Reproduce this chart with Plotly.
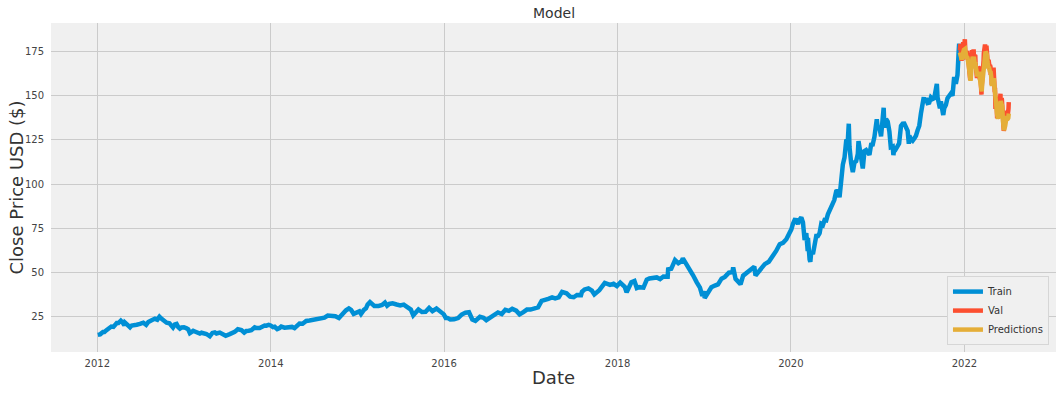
import plotly.graph_objects as go

train_dates = [
"2012-01-03","2012-01-13","2012-01-25","2012-01-31","2012-02-10","2012-02-17","2012-02-29","2012-03-09","2012-03-16","2012-03-23","2012-03-30",
"2012-04-09","2012-04-17","2012-04-24","2012-04-27","2012-05-07","2012-05-18","2012-05-25","2012-06-01","2012-06-15","2012-06-29","2012-07-13",
"2012-07-25","2012-08-03","2012-08-17","2012-08-31","2012-09-10","2012-09-19","2012-09-28","2012-10-10","2012-10-19","2012-10-31","2012-11-09",
"2012-11-15","2012-11-23","2012-11-30","2012-12-07","2012-12-14","2012-12-21","2012-12-31",
"2013-01-11","2013-01-18","2013-01-25","2013-02-08","2013-02-15","2013-02-28","2013-03-08","2013-03-15","2013-03-28","2013-04-05","2013-04-19",
"2013-04-30","2013-05-10","2013-05-17","2013-05-31","2013-06-14","2013-06-25","2013-07-12","2013-07-24","2013-08-02","2013-08-15","2013-08-30",
"2013-09-11","2013-09-20","2013-09-30","2013-10-11","2013-10-25","2013-10-31","2013-11-15","2013-11-29","2013-12-06","2013-12-13","2013-12-23","2013-12-31",
"2014-01-10","2014-01-17","2014-01-28","2014-02-07","2014-02-14","2014-02-28","2014-03-14","2014-03-31","2014-04-11","2014-04-24","2014-05-02",
"2014-05-15","2014-05-30","2014-06-13","2014-06-30","2014-07-15","2014-07-31","2014-08-15","2014-08-29","2014-09-15","2014-09-30","2014-10-15",
"2014-10-31","2014-11-14","2014-11-26","2014-12-05","2014-12-16","2014-12-31",
"2015-01-09","2015-01-16","2015-01-23","2015-01-28","2015-02-06","2015-02-13","2015-02-23","2015-03-06","2015-03-13","2015-03-31","2015-04-15",
"2015-04-27","2015-05-06","2015-05-15","2015-05-29","2015-06-15","2015-06-30","2015-07-15","2015-07-22","2015-07-31","2015-08-14","2015-08-24",
"2015-09-01","2015-09-15","2015-09-30","2015-10-15","2015-10-30","2015-11-13","2015-11-30","2015-12-15","2015-12-31",
"2016-01-08","2016-01-15","2016-01-27","2016-02-05","2016-02-12","2016-02-29","2016-03-15","2016-03-31","2016-04-15","2016-04-29","2016-05-12",
"2016-05-31","2016-06-15","2016-06-27","2016-07-15","2016-07-29","2016-08-15","2016-08-31","2016-09-15","2016-09-30","2016-10-14","2016-10-31",
"2016-11-14","2016-11-30","2016-12-15","2016-12-30",
"2017-01-13","2017-01-31","2017-02-15","2017-02-28","2017-03-15","2017-03-31","2017-04-13","2017-04-28","2017-05-12","2017-05-31","2017-06-09",
"2017-06-15","2017-06-30","2017-07-14","2017-07-31","2017-08-04","2017-08-15","2017-08-31","2017-09-15","2017-09-25","2017-10-16","2017-10-31",
"2017-11-08","2017-11-30","2017-12-15","2017-12-29",
"2018-01-12","2018-01-31","2018-02-08","2018-02-28","2018-03-13","2018-03-23","2018-04-02","2018-04-20","2018-05-04","2018-05-15","2018-05-31",
"2018-06-15","2018-06-29","2018-07-13","2018-07-31","2018-08-02","2018-08-15","2018-08-31","2018-09-14","2018-09-28","2018-10-03","2018-10-24",
"2018-11-02","2018-11-15","2018-11-30","2018-12-14","2018-12-24","2018-12-31",
"2019-01-03","2019-01-15","2019-01-31","2019-02-15","2019-02-28","2019-03-15","2019-03-29","2019-04-15","2019-04-30","2019-05-03","2019-05-13",
"2019-05-31","2019-06-03","2019-06-14","2019-06-28","2019-07-15","2019-07-31","2019-08-05","2019-08-15","2019-08-30","2019-09-13","2019-09-30",
"2019-10-15","2019-10-31","2019-11-15","2019-11-29","2019-12-13","2019-12-31",
"2020-01-03","2020-01-10","2020-01-17","2020-01-24","2020-01-31","2020-02-07","2020-02-14","2020-02-21","2020-02-28","2020-03-06","2020-03-12",
"2020-03-13","2020-03-16","2020-03-20","2020-03-23","2020-03-27","2020-04-03","2020-04-09","2020-04-17","2020-04-24","2020-05-01","2020-05-08",
"2020-05-15","2020-05-22","2020-05-29","2020-06-05","2020-06-12","2020-06-19","2020-06-26","2020-07-02","2020-07-10","2020-07-17","2020-07-24",
"2020-07-31","2020-08-07","2020-08-14","2020-08-21","2020-08-28","2020-08-31","2020-09-01","2020-09-04","2020-09-08","2020-09-11","2020-09-18",
"2020-09-25","2020-10-02","2020-10-09","2020-10-12","2020-10-16","2020-10-23","2020-10-30","2020-11-06","2020-11-13","2020-11-20","2020-11-27",
"2020-12-04","2020-12-11","2020-12-18","2020-12-28","2020-12-31",
"2021-01-08","2021-01-15","2021-01-22","2021-01-26","2021-01-29","2021-02-05","2021-02-12","2021-02-19","2021-02-25","2021-03-05","2021-03-08",
"2021-03-12","2021-03-19","2021-03-26","2021-04-01","2021-04-09","2021-04-16","2021-04-23","2021-04-30","2021-05-07","2021-05-12","2021-05-14",
"2021-05-21","2021-05-28","2021-06-04","2021-06-11","2021-06-18","2021-06-25","2021-07-02","2021-07-09","2021-07-14","2021-07-16","2021-07-23",
"2021-07-30","2021-08-06","2021-08-13","2021-08-20","2021-08-27","2021-09-03","2021-09-07","2021-09-10","2021-09-17","2021-09-20","2021-09-24",
"2021-10-01","2021-10-04","2021-10-08","2021-10-15","2021-10-22","2021-10-29","2021-11-05","2021-11-12","2021-11-19","2021-11-26","2021-12-03",
"2021-12-08","2021-12-10",
]
train_close = [
14.69,15.0,16.3,16.3,17.5,18.2,19.4,19.2,20.9,21.4,21.4,
22.7,21.6,20.1,21.6,20.3,19.0,20.0,20.0,20.4,20.9,21.6,
20.4,22.0,23.0,23.8,23.3,25.0,23.8,22.7,21.6,21.3,19.3,
18.9,20.6,20.9,19.1,18.2,18.9,19.0,
18.4,17.8,15.7,17.0,16.6,15.8,15.4,15.9,15.8,15.2,13.9,
15.8,16.1,15.5,16.0,15.3,14.2,15.1,15.7,16.4,17.9,17.4,
16.0,16.9,17.0,17.3,18.9,18.6,18.6,19.9,20.0,19.9,20.4,20.0,
19.1,19.3,18.0,18.6,19.4,18.8,18.8,19.2,18.5,20.3,21.1,
21.0,22.6,22.8,23.2,23.8,23.9,24.4,25.6,25.4,25.2,24.2,
27.0,28.6,29.7,28.9,26.6,27.6,
28.0,26.5,28.2,28.8,29.7,31.8,33.2,31.6,31.1,31.1,31.6,
33.0,31.2,32.2,32.6,31.9,31.4,31.8,31.3,30.3,29.0,25.8,
26.8,29.1,27.6,27.7,29.9,28.1,29.6,27.6,26.3,
24.3,24.3,23.4,23.8,23.5,24.2,26.2,27.2,27.5,23.4,22.6,
24.9,24.4,23.0,24.7,26.1,27.4,26.5,28.9,28.3,29.4,28.4,
26.3,27.6,29.0,29.0,
29.8,30.3,33.9,34.2,35.1,35.9,35.3,35.9,39.0,38.2,37.2,
36.3,36.0,37.3,37.2,39.1,40.4,41.0,39.7,37.6,40.0,42.3,
44.1,43.0,43.6,42.3,
44.3,41.9,38.8,44.5,45.2,41.2,41.7,41.4,45.9,46.6,46.7,
47.2,46.3,47.7,47.6,51.8,52.1,57.0,55.3,56.4,58.0,53.7,
51.9,48.4,44.6,41.4,36.7,39.4,
35.5,38.3,41.6,42.6,43.3,46.5,47.5,49.9,50.2,52.9,46.4,
43.8,43.3,48.2,49.5,51.1,53.3,48.3,50.2,52.2,54.7,56.1,
58.8,62.2,66.0,66.8,68.8,73.4,
74.4,77.6,79.7,79.6,77.4,80.0,81.2,78.3,68.3,72.3,62.1,
69.5,60.6,57.3,56.1,61.9,60.4,67.0,70.7,70.7,72.3,77.5,
76.9,79.7,79.5,82.9,84.7,87.4,88.4,91.0,95.9,96.3,92.6,
106.3,111.1,115.0,124.4,124.8,129.0,134.2,121.0,112.8,112.0,106.8,
112.3,113.0,117.0,124.4,119.0,115.0,108.9,118.7,119.3,117.3,116.6,
122.3,122.4,126.7,136.7,132.7,
132.1,127.1,139.1,143.2,132.0,136.8,135.4,129.9,121.0,121.4,116.4,
121.0,120.0,121.2,123.0,133.0,134.2,134.3,131.5,130.2,122.8,127.5,
125.4,124.6,125.9,127.4,130.5,133.1,140.0,145.1,149.2,146.4,148.6,
145.9,146.1,149.1,148.2,148.6,154.3,156.7,149.0,146.1,142.9,146.9,
142.7,139.1,142.9,144.8,148.7,149.8,151.3,150.0,160.6,156.8,161.8,
175.1,179.5,
]

val_dates = [
"2021-12-13","2021-12-14","2021-12-15","2021-12-16","2021-12-17","2021-12-20","2021-12-21","2021-12-22","2021-12-23","2021-12-27","2021-12-28",
"2021-12-29","2021-12-30","2021-12-31","2022-01-03","2022-01-04","2022-01-05","2022-01-06","2022-01-07","2022-01-10","2022-01-11","2022-01-12",
"2022-01-13","2022-01-14","2022-01-18","2022-01-19","2022-01-20","2022-01-21","2022-01-24","2022-01-25","2022-01-26","2022-01-27","2022-01-28",
"2022-01-31","2022-02-01","2022-02-02","2022-02-03","2022-02-04","2022-02-07","2022-02-08","2022-02-09","2022-02-10","2022-02-11","2022-02-14",
"2022-02-15","2022-02-16","2022-02-17","2022-02-18","2022-02-22","2022-02-23","2022-02-24","2022-02-25","2022-02-28","2022-03-01","2022-03-02",
"2022-03-03","2022-03-04","2022-03-07","2022-03-08","2022-03-09","2022-03-10","2022-03-11","2022-03-14","2022-03-15","2022-03-16","2022-03-17",
"2022-03-18","2022-03-21","2022-03-22","2022-03-23","2022-03-24","2022-03-25","2022-03-28","2022-03-29","2022-03-30","2022-03-31","2022-04-01",
"2022-04-04","2022-04-05","2022-04-06","2022-04-07","2022-04-08","2022-04-11","2022-04-12","2022-04-13","2022-04-14","2022-04-18","2022-04-19",
"2022-04-20","2022-04-21","2022-04-22","2022-04-25","2022-04-26","2022-04-27","2022-04-28","2022-04-29","2022-05-02","2022-05-03","2022-05-04",
"2022-05-05","2022-05-06","2022-05-09","2022-05-10","2022-05-11","2022-05-12","2022-05-13","2022-05-16","2022-05-17","2022-05-18","2022-05-19",
"2022-05-20","2022-05-23","2022-05-24","2022-05-25","2022-05-26","2022-05-27","2022-05-31","2022-06-01","2022-06-02","2022-06-03","2022-06-06",
"2022-06-07","2022-06-08","2022-06-09","2022-06-10","2022-06-13","2022-06-14","2022-06-15","2022-06-16","2022-06-17","2022-06-21","2022-06-22",
"2022-06-23","2022-06-24","2022-06-27","2022-06-28","2022-06-29","2022-06-30","2022-07-01","2022-07-05","2022-07-06","2022-07-07",
]
val_close = [
175.7,174.3,179.3,172.3,171.1,169.8,173.0,175.6,176.3,180.3,179.3,
179.4,178.2,177.6,182.0,179.7,174.9,172.0,172.2,172.2,175.1,175.5,
172.2,173.1,169.8,166.2,164.5,162.4,161.6,159.8,159.7,159.2,170.3,
174.8,174.6,175.8,172.9,172.4,171.7,174.8,176.3,172.1,168.6,168.9,
172.8,172.6,168.9,167.3,164.3,160.1,162.7,164.9,165.1,163.2,166.6,
166.2,163.2,159.3,157.4,163.0,158.5,154.7,150.6,155.1,159.6,160.6,
164.0,165.4,168.8,170.2,174.1,174.7,175.6,179.0,177.8,174.6,174.3,
178.4,175.1,171.8,172.1,170.1,165.8,167.7,170.4,165.3,165.1,167.4,
167.2,166.4,161.8,162.9,156.8,156.6,163.6,157.7,158.0,159.5,166.0,
156.8,157.3,152.1,154.5,146.5,142.6,147.1,145.5,149.2,140.8,137.4,
137.6,143.1,140.4,140.5,143.8,149.6,148.8,148.7,151.2,145.4,146.1,
148.7,148.0,142.6,137.1,131.9,132.8,135.4,130.1,131.6,135.9,135.4,
138.3,141.7,141.7,137.4,139.2,136.7,138.9,141.6,142.9,146.4,
]

pred_dates = [
"2021-12-13","2021-12-15","2021-12-17","2021-12-21","2021-12-23","2021-12-28","2021-12-30","2022-01-04","2022-01-06","2022-01-10","2022-01-12",
"2022-01-14","2022-01-19","2022-01-21","2022-01-25","2022-01-27","2022-01-31","2022-02-02","2022-02-04","2022-02-08","2022-02-10","2022-02-14",
"2022-02-16","2022-02-18","2022-02-23","2022-02-25","2022-03-01","2022-03-03","2022-03-07","2022-03-09","2022-03-11","2022-03-15","2022-03-17",
"2022-03-21","2022-03-23","2022-03-25","2022-03-29","2022-03-31","2022-04-04","2022-04-06","2022-04-08","2022-04-12","2022-04-14","2022-04-19",
"2022-04-21","2022-04-25","2022-04-27","2022-04-29","2022-05-03","2022-05-05","2022-05-09","2022-05-11","2022-05-13","2022-05-17","2022-05-19",
"2022-05-23","2022-05-25","2022-05-27","2022-06-01","2022-06-03","2022-06-07","2022-06-09","2022-06-13","2022-06-15","2022-06-17","2022-06-22",
"2022-06-24","2022-06-28","2022-06-30","2022-07-05","2022-07-07",
]
pred_close = [
174.5,173.5,172.0,170.5,172.5,175.5,176.0,176.5,173.5,171.0,172.0,
171.5,167.5,163.5,160.5,158.5,166.0,171.0,171.0,171.0,172.0,168.0,
169.0,166.5,161.5,161.0,162.5,163.5,160.0,157.0,156.0,152.5,156.5,
161.5,166.0,170.5,173.5,175.0,174.0,173.0,169.5,165.5,166.5,163.5,
164.0,160.0,155.5,158.0,156.0,160.0,153.5,149.0,143.5,144.5,139.5,
137.0,138.5,142.0,146.0,147.0,145.0,144.5,135.0,131.5,130.5,133.0,
137.0,138.5,136.5,137.5,140.0,
]

year_ticks = ["2012", "2014", "2016", "2018", "2020", "2022"]
y_ticks = [25, 50, 75, 100, 125, 150, 175]

fig = go.Figure()
fig.add_trace(go.Scatter(x=train_dates, y=train_close, mode="lines", name="Train",
                         line=dict(color="#008fd5", width=4.5)))
fig.add_trace(go.Scatter(x=val_dates, y=val_close, mode="lines", name="Val",
                         line=dict(color="#fc4f30", width=4.5)))
fig.add_trace(go.Scatter(x=pred_dates, y=pred_close, mode="lines", name="Predictions",
                         line=dict(color="#e5ae38", width=4.5)))

font_family = "DejaVu Sans"
fig.update_layout(
    width=1061, height=393,
    margin=dict(l=51, r=5, t=23, b=41),
    paper_bgcolor="white",
    plot_bgcolor="#f0f0f0",
    font=dict(family=font_family, size=10, color="#444444"),
    showlegend=True,
    legend=dict(x=0.993, y=0.021, xanchor="right", yanchor="bottom",
                bgcolor="#f0f0f0", bordercolor="#d6d6d6", borderwidth=1,
                font=dict(size=10, color="#333333"), tracegroupgap=0),
    annotations=[
        dict(text="Model", x=0.5, y=1, xref="paper", yref="paper", yshift=10,
             xanchor="center", yanchor="middle", showarrow=False,
             font=dict(size=14, color="#333333")),
        dict(text="Date", x=0.5, y=0, xref="paper", yref="paper", yshift=-25,
             xanchor="center", yanchor="middle", showarrow=False,
             font=dict(size=18, color="#333333")),
        dict(text="Close Price USD ($)", x=0, y=0.5, xref="paper", yref="paper", xshift=-35,
             xanchor="center", yanchor="middle", showarrow=False, textangle=-90,
             font=dict(size=18, color="#333333")),
    ],
)
fig.update_xaxes(
    type="date", range=["2011-06-20", "2023-01-22"],
    tickvals=[y + "-01-01" for y in year_ticks], ticktext=year_ticks,
    showgrid=True, gridcolor="#cbcbcb", gridwidth=1, zeroline=False,
    showline=False, ticks="", ticklabelstandoff=4,
)
fig.update_yaxes(
    range=[5.0, 191.2], tickvals=y_ticks,
    showgrid=True, gridcolor="#cbcbcb", gridwidth=1, zeroline=False,
    showline=False, ticks="", ticklabelstandoff=6,
)

fig.write_html("out.html", config={"displayModeBar": False},
               post_script="document.body.style.margin='0';document.body.style.padding='0';document.body.style.overflow='hidden';")
